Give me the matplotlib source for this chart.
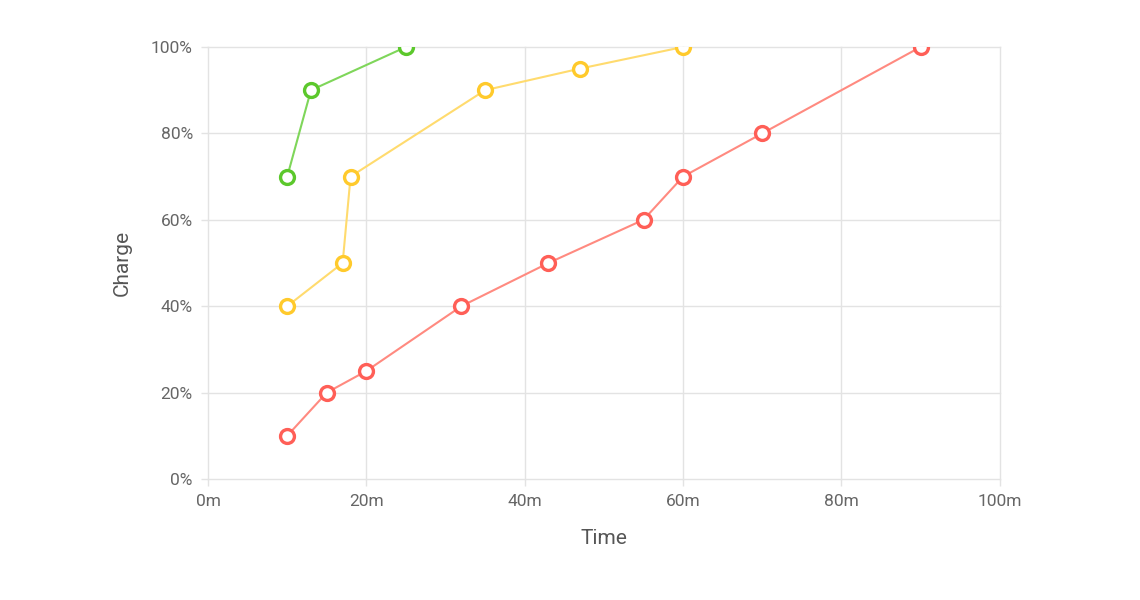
import matplotlib
matplotlib.use("Agg")
import matplotlib.pyplot as plt
from matplotlib.ticker import FuncFormatter

plt.rcParams['font.family'] = ['Roboto', 'DejaVu Sans']

green_x = [10, 13, 25]
green_y = [70, 90, 100]
yellow_x = [10, 17, 18, 35, 47, 60]
yellow_y = [40, 50, 70, 90, 95, 100]
red_x = [10, 15, 20, 32, 43, 55, 60, 70, 90]
red_y = [10, 20, 25, 40, 50, 60, 70, 80, 100]

x_ticks = [0, 20, 40, 60, 80, 100]
y_ticks = [0, 20, 40, 60, 80, 100]

fig = plt.figure(figsize=(11.4, 6.0), dpi=100)
ax = fig.add_axes([0.1825, 0.2017, 0.877 - 0.1825, 0.9217 - 0.2017])

series = [
    (red_x, red_y, '#ff8a80', '#ff5f57'),
    (yellow_x, yellow_y, '#ffdb6e', '#ffca2c'),
    (green_x, green_y, '#7fd65a', '#5cc82c'),
]
for xs, ys, lc, mc in series:
    ax.plot(xs, ys, color=lc, lw=1.5, zorder=3)
    ax.plot(xs, ys, ls='none', marker='o', ms=10, mfc='white', mec=mc,
            mew=2.4, zorder=4)

ax.set_xlim(0, 100)
ax.set_ylim(0, 100)
ax.set_xticks(x_ticks)
ax.set_yticks(y_ticks)
ax.xaxis.set_major_formatter(FuncFormatter(lambda v, p: f"{int(v)}m"))
ax.yaxis.set_major_formatter(FuncFormatter(lambda v, p: f"{int(v)}%"))
ax.grid(True, color='#e3e3e3', lw=1)
for gl in ax.get_xgridlines() + ax.get_ygridlines():
    gl.set_clip_on(False)
for s in ax.spines.values():
    s.set_visible(False)
ax.tick_params(axis='both', colors='#e3e3e3', length=5, width=1,
               labelcolor='#666666', labelsize=12.5, pad=6)
ax.set_xlabel('Time', fontsize=15, color='#555555', labelpad=14)
ax.set_ylabel('Charge', fontsize=15, color='#555555', labelpad=14)

fig.savefig('out.png', dpi=100, facecolor='white')
